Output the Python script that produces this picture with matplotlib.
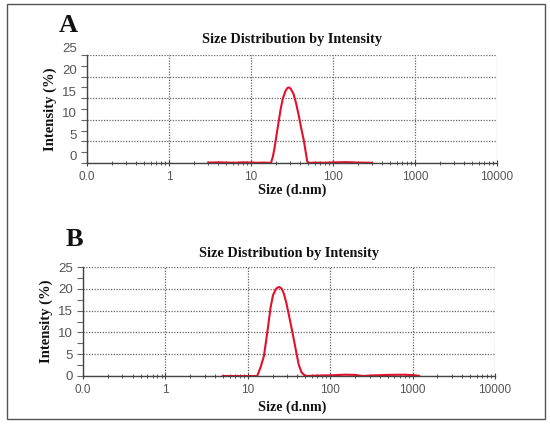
import matplotlib
matplotlib.use('Agg')
import matplotlib.pyplot as plt
import matplotlib.transforms as mtransforms
from matplotlib.patches import Rectangle
from matplotlib.ticker import FixedLocator, LogLocator, NullFormatter

# size (d.nm) and intensity (%)
size_a = [3, 4, 5, 6.5, 8, 10, 12, 14, 16, 17.5, 18.5, 19.5, 20.5, 21.5, 23, 24.5,
          26.5, 28, 29, 30.5, 33, 35.5, 38.5, 41, 44, 46.5, 48.6, 51, 60, 80,
          100, 150, 200, 300]
int_a = [0.1, 0.15, 0.1, 0.05, 0.15, 0.1, 0.05, 0.1, 0.05, 0.0, 1.5, 3.8, 6.5, 9.0,
         12.5, 15.0, 16.8, 17.4, 17.5, 17.2, 16.0, 13.8, 10.7, 8.0, 5.3, 2.5,
         0.3, 0.0, 0.1, 0.05, 0.15, 0.2, 0.1, 0.05]

size_b = [5, 7, 10, 13, 14.3, 15.7, 17.3, 18.9, 20.2, 21.7, 23, 24.3, 25.8, 27.4,
          29.5, 31.5, 33.8, 36, 38.7, 41.5, 45, 50, 70, 100, 150, 200, 250, 300,
          500, 800, 1000, 1200]
int_b = [0.0, 0.0, 0.0, 0.0, 2.0, 4.6, 10.2, 15.7, 18.5, 19.8, 20.3, 20.4, 20.0,
         18.9, 16.6, 14.0, 11.2, 8.6, 5.5, 2.6, 0.8, 0.0, 0.1, 0.15, 0.3, 0.25,
         0.0, 0.1, 0.25, 0.3, 0.2, 0.05]

x_ticks = [0.1, 1, 10, 100, 1000, 10000]
x_tick_labels = ['0.0', '1', '10', '100', '1000', '10000']
y_ticks = [0, 5, 10, 15, 20, 25]

W, H = 550, 425
serif = ['Liberation Serif', 'DejaVu Serif']
sans = ['Liberation Sans', 'DejaVu Sans']


def px(x0, y0, x1, y1):
    # pixel box -> figure fraction [left, bottom, width, height]
    return [x0 / W, 1 - y1 / H, (x1 - x0) / W, (y1 - y0) / H]


def dls_panel(fig, box, sizes, values, letter, letter_xy, title_y, ylabel_x, xlabel_y, ylab_shift):
    ax = fig.add_axes(px(*box))
    ax.plot(sizes, values, color='#e3102c', lw=1.5)
    ax.set_xscale('log')
    ax.set_xlim(0.1, 10000)
    ax.set_ylim(0, 25)

    ax.xaxis.set_major_locator(FixedLocator(x_ticks))
    ax.set_xticklabels(x_tick_labels)
    ax.xaxis.set_minor_locator(LogLocator(base=10, subs=range(2, 10)))
    ax.xaxis.set_minor_formatter(NullFormatter())
    ax.yaxis.set_major_locator(FixedLocator(y_ticks))
    ax.yaxis.set_minor_locator(FixedLocator([2.5, 7.5, 12.5, 17.5, 22.5]))

    for side in ['top', 'right']:
        ax.spines[side].set_visible(False)
    for side in ['left', 'bottom']:
        ax.spines[side].set_color('#444444')
        ax.spines[side].set_linewidth(1.0)

    ax.grid(True, which='major', color='#666666', linestyle=(0, (1, 1.2)), linewidth=0.9)
    ax.set_axisbelow(True)

    ax.tick_params(axis='x', which='major', direction='inout', length=5, width=0.8,
                   color='#444444', labelsize=8.5, labelcolor='#555555', pad=3)
    ax.tick_params(axis='x', which='minor', direction='inout', length=3, width=0.7,
                   color='#555555')
    ax.tick_params(axis='y', which='both', direction='out', length=4, width=0.8,
                   color='#666666', labelsize=9.5, labelcolor='#555555', pad=3)
    for lab in ax.get_xticklabels() + ax.get_yticklabels():
        lab.set_family(sans)
    if ylab_shift:
        shift = mtransforms.ScaledTranslation(0, ylab_shift / 100, fig.dpi_scale_trans)
        for lab in ax.get_yticklabels():
            lab.set_transform(lab.get_transform() + shift)

    cx = (box[0] + box[2]) / 2
    fig.text(cx / W, 1 - title_y / H, 'Size Distribution by Intensity', family=serif,
             fontweight='bold', fontsize=10.3, ha='center', va='center', color='#111111')
    fig.text(ylabel_x / W, 1 - (box[1] + box[3]) / 2 / H, 'Intensity (%)', family=serif,
             fontweight='bold', fontsize=10.5, rotation=90, ha='center', va='center',
             color='#111111')
    fig.text(292 / W, 1 - xlabel_y / H, 'Size (d.nm)', family=serif, fontweight='bold',
             fontsize=10.2, ha='center', va='center', color='#111111')
    fig.text(letter_xy[0] / W, 1 - letter_xy[1] / H, letter, family=serif,
             fontweight='bold', fontsize=19, ha='left', va='center', color='#111111')
    return ax


fig = plt.figure(figsize=(W / 100, H / 100), dpi=100)
fig.patches.append(Rectangle((7 / W, 1 - 419 / H), 538 / W, 415 / H, transform=fig.transFigure,
                             fill=False, edgecolor='#555555', linewidth=1.0))

dls_panel(fig, (87, 55, 497, 163), size_a, int_a, 'A', (59, 25), 40, 50, 190, 7)
dls_panel(fig, (83, 267, 495, 376), size_b, int_b, 'B', (66, 240), 254, 46, 407, 0)

fig.savefig('out.png', dpi=100)
